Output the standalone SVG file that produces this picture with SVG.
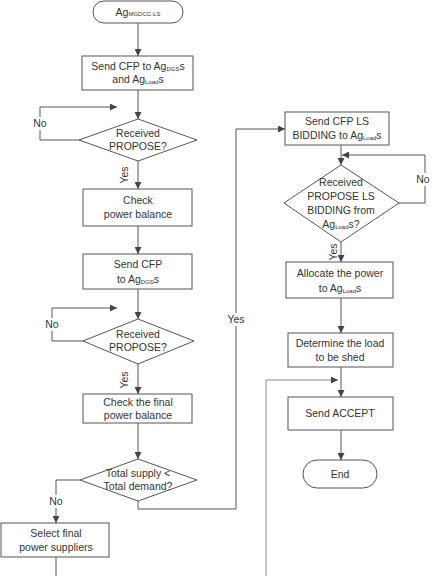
<svg xmlns="http://www.w3.org/2000/svg" width="432" height="576" viewBox="0 0 432 576">
<defs>
<marker id="ah" viewBox="0 0 10 10" refX="10" refY="5" markerWidth="7" markerHeight="7" markerUnits="userSpaceOnUse" orient="auto">
<path d="M0,0 L10,5 L0,10 z" fill="#444"/>
</marker>
<style>
.n{fill:#fff;stroke:#555;stroke-width:1}
.t{font-family:"Liberation Sans",Arial,sans-serif;font-size:10.5px;fill:#333;text-anchor:middle}
.s{font-size:6px}
.c{fill:none;stroke:#555;stroke-width:1}
.a{marker-end:url(#ah)}
.lb{fill:#fff}
</style>
</defs>
<rect width="432" height="576" fill="#fff"/>
<g id="connectors">
<path class="c a" d="M138,23 V56"/>
<path class="c a" d="M138,90 V119"/>
<path class="c a" d="M80,140 H40 V107 H117"/>
<path class="c a" d="M138,161 V189"/>
<path class="c a" d="M138,226 V254"/>
<path class="c a" d="M138,289 V319"/>
<path class="c a" d="M83,341 H52 V308 H117"/>
<path class="c a" d="M138,364 V394"/>
<path class="c a" d="M138,423 V459"/>
<path class="c a" d="M138,501 V509 H236 V129 H285"/>
<path class="c a" d="M80,480 H56 V523"/>
<path class="c" d="M56,557 V576"/>
<path class="c a" d="M341,145 V165"/>
<path class="c a" d="M399,203 H425 V155 H342"/>
<path class="c a" d="M341,242 V262"/>
<path class="c a" d="M341,298 V333"/>
<path class="c a" d="M341,367 V397"/>
<path class="c a" style="stroke:#888" d="M266,576 V380 H338"/>
<path class="c a" d="M341,430 V460"/>
<rect class="lb" x="31" y="117" width="18" height="13"/>
<text class="t" x="40" y="127">No</text>
<rect class="lb" x="43" y="318" width="18" height="13"/>
<text class="t" x="52" y="328">No</text>
<rect class="lb" x="47" y="495" width="18" height="13"/>
<text class="t" x="56" y="505">No</text>
<rect class="lb" x="226" y="313" width="20" height="13"/>
<text class="t" x="236" y="323">Yes</text>
<rect class="lb" x="413" y="173" width="19" height="13"/>
<text class="t" x="423" y="183">No</text>
<text class="t" transform="translate(128,175) rotate(-90)">Yes</text>
<text class="t" transform="translate(128,380) rotate(-90)">Yes</text>
<text class="t" transform="translate(337,252) rotate(-90)">Yes</text>
</g>
<g id="start">
<rect class="n" x="93" y="1" width="90" height="22" rx="11"/>
<text class="t" x="138" y="16">Ag<tspan class="s">MGDCC-LS</tspan></text>
</g>
<g id="sendCFP1">
<rect class="n" x="82" y="56" width="111" height="34"/>
<text class="t" x="138" y="70">Send CFP to Ag<tspan class="s" dy="1">DGS</tspan><tspan dy="-1">s</tspan></text>
<text class="t" x="138" y="83">and Ag<tspan class="s" dy="1">Load</tspan><tspan dy="-1">s</tspan></text>
</g>
<g id="received1">
<polygon class="n" points="138,119 197,140 138,161 79,140"/>
<text class="t" x="138" y="137">Received</text>
<text class="t" x="138" y="150">PROPOSE?</text>
</g>
<g id="checkBalance">
<rect class="n" x="83" y="189" width="109" height="37"/>
<text class="t" x="138" y="204">Check</text>
<text class="t" x="138" y="218">power balance</text>
</g>
<g id="sendCFP2">
<rect class="n" x="83" y="254" width="109" height="35"/>
<text class="t" x="138" y="268">Send CFP</text>
<text class="t" x="138" y="283">to Ag<tspan class="s" dy="1">DGS</tspan><tspan dy="-1">s</tspan></text>
</g>
<g id="received2">
<polygon class="n" points="138,319 194,341 138,364 83,341"/>
<text class="t" x="138" y="338">Received</text>
<text class="t" x="138" y="351">PROPOSE?</text>
</g>
<g id="checkFinal">
<rect class="n" x="83" y="394" width="109" height="29"/>
<text class="t" x="138" y="406">Check the final</text>
<text class="t" x="138" y="419">power balance</text>
</g>
<g id="supplyDemand">
<polygon class="n" points="138,459 197,480 138,501 80,480"/>
<text class="t" x="138" y="477">Total supply &lt;</text>
<text class="t" x="138" y="490">Total demand?</text>
</g>
<g id="selectSuppliers">
<rect class="n" x="1" y="523" width="108" height="34"/>
<text class="t" x="56" y="537">Select final</text>
<text class="t" x="56" y="551">power suppliers</text>
</g>
<g id="sendLSBidding">
<rect class="n" x="285" y="112" width="104" height="33"/>
<text class="t" x="337" y="125">Send CFP LS</text>
<text class="t" x="337" y="139">BIDDING to Ag<tspan class="s" dy="1">Load</tspan><tspan dy="-1">s</tspan></text>
</g>
<g id="receivedBidding">
<polygon class="n" points="341,165 399,203 341,242 284,203"/>
<text class="t" x="341" y="186">Received</text>
<text class="t" x="341" y="200">PROPOSE LS</text>
<text class="t" x="341" y="214">BIDDING from</text>
<text class="t" x="341" y="228">Ag<tspan class="s" dy="1">Load</tspan><tspan dy="-1">s?</tspan></text>
</g>
<g id="allocate">
<rect class="n" x="286" y="262" width="107" height="36"/>
<text class="t" x="340" y="277">Allocate the power</text>
<text class="t" x="340" y="292">to Ag<tspan class="s" dy="1">Load</tspan><tspan dy="-1">s</tspan></text>
</g>
<g id="determineLoad">
<rect class="n" x="288" y="333" width="105" height="34"/>
<text class="t" x="340" y="347">Determine the load</text>
<text class="t" x="340" y="361">to be shed</text>
</g>
<g id="sendAccept">
<rect class="n" x="288" y="397" width="105" height="33"/>
<text class="t" x="340" y="417">Send ACCEPT</text>
</g>
<g id="end">
<rect class="n" x="303" y="460" width="74" height="28" rx="14"/>
<text class="t" x="340" y="478">End</text>
</g>
</svg>
